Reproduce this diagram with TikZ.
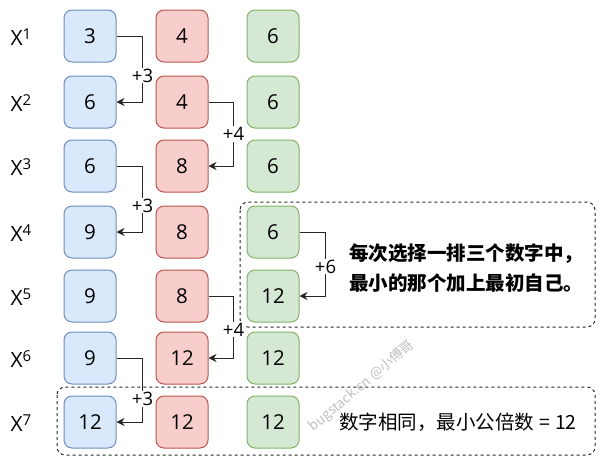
\documentclass[tikz,border=0pt]{standalone}
\usepackage{fontspec}
\setmainfont{Open Sans}
\newfontfamily\cjk{Noto Sans CJK SC}
\usetikzlibrary{arrows.meta}
\definecolor{bfill}{HTML}{DAE8FC}
\definecolor{bdraw}{HTML}{6C8EBF}
\definecolor{rfill}{HTML}{F8CECC}
\definecolor{rdraw}{HTML}{B85450}
\definecolor{gfill}{HTML}{D5E8D4}
\definecolor{gdraw}{HTML}{82B366}
\newcommand{\rowsup}[1]{X\raisebox{6.5pt}{\fontsize{15}{15}\selectfont #1}}
\begin{document}
\begin{tikzpicture}[x=1pt,y=-1pt,
  cell/.style={minimum width=52pt, minimum height=52pt, rounded corners=8pt, line width=1pt, inner sep=0pt, font=\fontsize{20.5}{22}\selectfont},
  bcell/.style={cell, fill=bfill, draw=bdraw},
  rcell/.style={cell, fill=rfill, draw=rdraw},
  gcell/.style={cell, fill=gfill, draw=gdraw},
  conn/.style={line width=1pt, draw=black!85, -{Stealth[length=8pt,width=8pt]}},
  lbl/.style={fill=white, inner sep=1pt, font=\fontsize{18.5}{19}\selectfont},
  rowlbl/.style={font=\fontsize{21}{22}\selectfont, anchor=west},
  dbox/.style={line width=1pt, draw=black!85, dash pattern=on 3pt off 3pt, rounded corners=8pt},
  note/.style={font=\cjk\fontsize{19.5}{30}\selectfont, align=left},
  wmark/.style={font=\cjk\fontsize{13.5}{14}\selectfont, text=black!25, rotate=40}
]
\useasboundingbox (0,0) rectangle (600,461);

% dashed groups
\draw[dbox] (240,202) rectangle (595,327);
\draw[dbox] (57,387) rectangle (595,455);

% row labels
\foreach \i/\y in {1/37,2/103,3/167,4/233,5/297,6/359,7/423}{
  \node[rowlbl] (x\i) at (7,\y) {\rowsup{\i}};
}

% cells
\foreach \i/\y/\a/\b/\c in {1/36/3/4/6, 2/102/6/4/6, 3/166/6/8/6, 4/232/9/8/6, 5/296/9/8/12, 6/358/9/12/12, 7/422/12/12/12}{
  \node[bcell] (b\i) at (90,\y) {\a};
  \node[rcell] (r\i) at (182,\y) {\b};
  \node[gcell] (g\i) at (273,\y) {\c};
}

% connectors
\draw[conn] (b1.east) -- ++(26,0) |- (b2.east) node[lbl, pos=0.3] {+3};
\draw[conn] (r2.east) -- ++(25,0) |- (r3.east) node[lbl, pos=0.25] {+4};
\draw[conn] (b3.east) -- ++(26,0) |- (b4.east) node[lbl, pos=0.3] {+3};
\draw[conn] (g4.east) -- ++(26,0) |- (g5.east) node[lbl, pos=0.27] {+6};
\draw[conn] (r5.east) -- ++(25,0) |- (r6.east) node[lbl, pos=0.27] {+4};
\draw[conn] (b6.east) -- ++(26,0) |- (b7.east) node[lbl, pos=0.32] {+3};

% notes
\node[note, font=\cjk\bfseries\fontsize{19.5}{30}\selectfont] (n1) at (466,268) {每次选择一排三个数字中，\\最小的那个加上最初自己。};
\node[note] (n2) at (458,422) {数字相同，最小公倍数\hspace{5pt}=\hspace{5pt}12};

% watermark
\node[wmark] (wm) at (362,386) {bugstack.cn @小傅哥};
\end{tikzpicture}
\end{document}
